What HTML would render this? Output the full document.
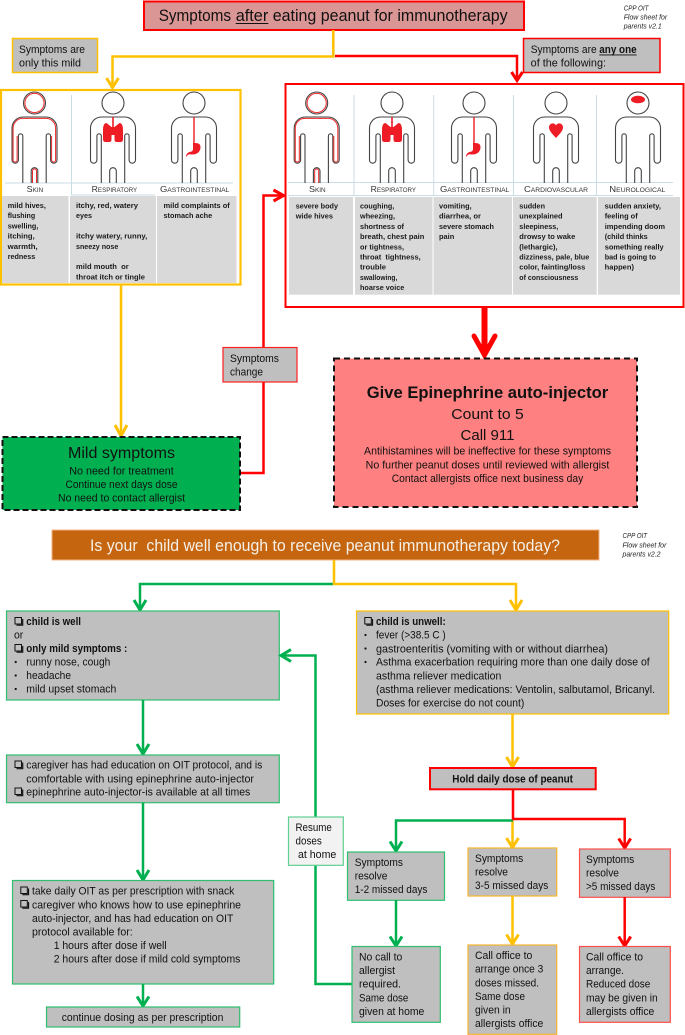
<!DOCTYPE html>
<html><head><meta charset="utf-8"><style>
html,body{margin:0;padding:0;background:#fff}
svg{display:block;filter:blur(.3px)}
text{font-family:"Liberation Sans",sans-serif;fill:#111;font-size:10.7px;white-space:pre}
.s{font-size:7.5px;font-weight:bold;fill:#1a1a1a}
.c{font-size:8.4px;fill:#333;font-variant:small-caps;letter-spacing:0}
.n{font-size:7.4px;font-style:italic;fill:#222}
.b{font-weight:bold}
.m{text-anchor:middle}
.l{fill:none;stroke-linejoin:miter}
polyline.l{stroke-width:3}
</style></head><body>
<svg xmlns="http://www.w3.org/2000/svg" width="685" height="1035" viewBox="0 0 685 1035">
<defs>
<g id="body" fill="none" stroke="#444" stroke-width="1.1">
<circle cx="0" cy="103" r="11"/>
<path d="M-11.7,183V136a2.2,2.2 0 0 0-4.4,0V160a3.2,3.2 0 0 1-6.4,0V128a11,11 0 0 1 11,-11H11.5a11,11 0 0 1 11,11V160a3.2,3.2 0 0 1-6.4,0V136a2.2,2.2 0 0 0-4.4,0V183"/>
<path d="M-3.3,183V171a3.3,3.3 0 0 1 6.6,0V183"/>
</g>
<g id="skin" fill="none" stroke="#ee2a2a" stroke-width="1">
<circle cx="0" cy="103" r="9.6"/>
<path d="M-17.4,136V160a2,2 0 0 1-2,2 2,2 0 0 1-2,-2V128a9.6,9.6 0 0 1 9.6,-9.6H11.5a9.6,9.6 0 0 1 9.6,9.6V160a2,2 0 0 1-4,0V136"/>
<path d="M-2,183V171a2,2 0 0 1 4,0V183"/>
</g>
<g id="lungs" fill="#ee1c25">
<rect x="-0.8" y="117" width="1.6" height="12"/>
<path d="M-1.5,127l-5,-4c-2.5,0-3.5,3-3.5,7v9c0,2.5 1,3 3,3h3c2,0 2.5,-1 2.5,-3v-4h3v4c0,2 .5,3 2.5,3h3c2,0 3,-.5 3,-3v-9c0,-4-1,-7-3.5,-7l-5,4z"/>
</g>
<g id="stomach" fill="none" stroke="#ee1c25">
<path d="M0,117V143" stroke-width="1.4"/>
<path d="M-0.5,143.5c2,0 6.5,-.5 6.5,3.5c0,5.5-4.5,7-7.500,7c-2,0-3,-.5-4,0c-1.5,.5-2,1-2,2.500c0,-2.500 2,-4 5,-4.500c2,-.3 2,-2 2,-3.500z" fill="#ee1c25" stroke-width="1"/>
</g>
<g id="cb"><rect x="0.5" y="0.5" width="6.5" height="6.5" fill="none" stroke="#111" stroke-width="1"/><path d="M2,8.2H8.2V2" fill="none" stroke="#111" stroke-width="1.2"/></g>
</defs>

<!-- TOP FLOWCHART -->
<rect x="144" y="1.5" width="380" height="28.500" fill="#d99694" stroke="#ff0000" stroke-width="2"/>
<text x="158.7" y="21" style="font-size:16.5px" textLength="72.3" lengthAdjust="spacingAndGlyphs">Symptoms</text>
<text x="235.7" y="21" style="font-size:16.5px" textLength="32.6" lengthAdjust="spacingAndGlyphs">after</text>
<rect x="235.7" y="23" width="32.6" height="1" fill="#111"/>
<text x="272.7" y="21" style="font-size:16.5px" textLength="235" lengthAdjust="spacingAndGlyphs">eating peanut for immunotherapy</text>
<text class="n" x="623.7" y="10.5" textLength="24.7" lengthAdjust="spacingAndGlyphs">CPP OIT</text>
<text class="n" x="623.7" y="19.5" textLength="43.5" lengthAdjust="spacingAndGlyphs">Flow sheet for</text>
<text class="n" x="623.7" y="28.5" textLength="38" lengthAdjust="spacingAndGlyphs">parents v2.1</text>

<path class="l" d="M333.3,30V56.5H112.5V87" stroke="#ffc000" stroke-width="2.500"/>
<polyline class="l" points="106.5,78 112.5,87.5 118.5,78" stroke="#ffc000"/>
<path class="l" d="M335,56H517V80" stroke="#ff0000" stroke-width="2.500"/>
<polyline class="l" points="511.5,72 517,80.5 522.5,72" stroke="#ff0000"/>

<rect x="12.5" y="38.5" width="85" height="34" fill="#bfbfbf" stroke="#ffc000" stroke-width="1.500"/>
<text x="19" y="53" textLength="66" lengthAdjust="spacingAndGlyphs">Symptoms are</text>
<text x="19" y="66.5" textLength="62" lengthAdjust="spacingAndGlyphs">only this mild</text>

<rect x="523.5" y="38.5" width="136.500" height="34" fill="#bfbfbf" stroke="#ff0000" stroke-width="1.500"/>
<text x="530.7" y="53" textLength="66" lengthAdjust="spacingAndGlyphs">Symptoms are</text>
<text class="b" x="599.3" y="53" textLength="37.3" lengthAdjust="spacingAndGlyphs">any one</text>
<rect x="599.3" y="54.5" width="37.3" height="0.9" fill="#111"/>
<text x="530.7" y="66.5" textLength="75.3" lengthAdjust="spacingAndGlyphs">of the following:</text>

<!-- Mild panel -->
<rect x="1" y="90" width="239.5" height="194.5" fill="#fff" stroke="#ffc000" stroke-width="2.200"/>
<rect x="2" y="196" width="66.5" height="87" fill="#d9d9d9"/>
<rect x="70" y="196" width="86" height="87" fill="#d9d9d9"/>
<rect x="157" y="196" width="79.5" height="87" fill="#d9d9d9"/>
<path d="M71.5,95V195M5,183H233M71.5,195H155" stroke="#c9dde5" stroke-width="1" fill="none"/>
<use href="#body" x="34.5"/><use href="#skin" x="34.5"/>
<use href="#body" x="113"/><use href="#lungs" x="113"/>
<use href="#body" x="194"/><use href="#stomach" x="194"/>
<text class="c" x="26.7" y="192" textLength="16.5" lengthAdjust="spacingAndGlyphs">Skin</text>
<text class="c" x="91.7" y="192" textLength="45.5" lengthAdjust="spacingAndGlyphs">Respiratory</text>
<text class="c" x="160" y="192" textLength="69.3" lengthAdjust="spacingAndGlyphs">Gastrointestinal</text>

<text class="s" x="7.7" y="208" textLength="38.3" lengthAdjust="spacingAndGlyphs">mild hives,</text>
<text class="s" x="7.7" y="218.2" textLength="27.5" lengthAdjust="spacingAndGlyphs">flushing</text>
<text class="s" x="7.7" y="228.4" textLength="30.7" lengthAdjust="spacingAndGlyphs">swelling,</text>
<text class="s" x="7.7" y="238.6" textLength="27" lengthAdjust="spacingAndGlyphs">itching,</text>
<text class="s" x="7.7" y="248.8" textLength="30" lengthAdjust="spacingAndGlyphs">warmth,</text>
<text class="s" x="7.7" y="259" textLength="27.5" lengthAdjust="spacingAndGlyphs">redness</text>

<text class="s" x="76" y="208" textLength="62" lengthAdjust="spacingAndGlyphs">itchy, red, watery</text>
<text class="s" x="76" y="218.2" textLength="16" lengthAdjust="spacingAndGlyphs">eyes</text>
<text class="s" x="76" y="238.6" textLength="71.3" lengthAdjust="spacingAndGlyphs">itchy watery, runny,</text>
<text class="s" x="76" y="248.8" textLength="42.3" lengthAdjust="spacingAndGlyphs">sneezy nose</text>
<text class="s" x="76" y="269.2" textLength="52.7" lengthAdjust="spacingAndGlyphs">mild mouth  or</text>
<text class="s" x="76" y="279.4" textLength="69" lengthAdjust="spacingAndGlyphs">throat itch or tingle</text>

<text class="s" x="163.5" y="208" textLength="66.3" lengthAdjust="spacingAndGlyphs">mild complaints of</text>
<text class="s" x="163.5" y="218.2" textLength="48.7" lengthAdjust="spacingAndGlyphs">stomach ache</text>

<!-- Yellow to mild symptoms -->
<path class="l" d="M121,285V436" stroke="#ffc000" stroke-width="2.500"/>
<polyline class="l" points="115,425 121,436 127,425" stroke="#ffc000"/>

<!-- Red panel -->
<rect x="285.5" y="84" width="398" height="223" fill="#fff" stroke="#ff0000" stroke-width="2"/>
<rect x="289" y="197" width="64" height="97.7" fill="#d9d9d9"/>
<rect x="355" y="197" width="77.5" height="97.7" fill="#d9d9d9"/>
<rect x="433.5" y="197" width="78.5" height="97.7" fill="#d9d9d9"/>
<rect x="513" y="197" width="83.7" height="97.7" fill="#d9d9d9"/>
<rect x="598" y="197" width="82" height="97.7" fill="#d9d9d9"/>
<path d="M354,95V195M433.7,95V195M513.5,95V195M596.5,95V195M288,182.5H673M288,195.5H673" stroke="#c9dde5" stroke-width="1" fill="none"/>
<use href="#body" x="316.7"/><use href="#skin" x="316.7"/>
<use href="#body" x="392"/><use href="#lungs" x="392"/>
<use href="#body" x="474"/><use href="#stomach" x="474"/>
<use href="#body" x="556"/>
<path d="M556,138c-3,-3.5-7,-7-7,-10.5c0,-4.5 5.5,-5.5 7,-2c1.5,-3.5 7,-2.5 7,2c0,3.5-4,7-7,10.5z" fill="#ee1c25"/>
<use href="#body" x="638"/>
<ellipse cx="638" cy="99.5" rx="7" ry="3.8" fill="#ee1c25"/>

<text class="c" x="309" y="192" textLength="16.7" lengthAdjust="spacingAndGlyphs">Skin</text>
<text class="c" x="370.7" y="192" textLength="45.3" lengthAdjust="spacingAndGlyphs">Respiratory</text>
<text class="c" x="440" y="192" textLength="69.3" lengthAdjust="spacingAndGlyphs">Gastrointestinal</text>
<text class="c" x="524" y="192" textLength="64" lengthAdjust="spacingAndGlyphs">Cardiovascular</text>
<text class="c" x="609.3" y="192" textLength="56" lengthAdjust="spacingAndGlyphs">Neurological</text>

<text class="s" x="295.7" y="208.5" textLength="42.3" lengthAdjust="spacingAndGlyphs">severe body</text>
<text class="s" x="295.7" y="218.7" textLength="37.3" lengthAdjust="spacingAndGlyphs">wide hives</text>

<text class="s" x="360" y="208.5" textLength="34.3" lengthAdjust="spacingAndGlyphs">coughing,</text>
<text class="s" x="360" y="218.7" textLength="35" lengthAdjust="spacingAndGlyphs">wheezing,</text>
<text class="s" x="360" y="228.9" textLength="44" lengthAdjust="spacingAndGlyphs">shortness of</text>
<text class="s" x="360" y="239.1" textLength="64.3" lengthAdjust="spacingAndGlyphs">breath, chest pain</text>
<text class="s" x="360" y="249.3" textLength="44" lengthAdjust="spacingAndGlyphs">or tightness,</text>
<text class="s" x="360" y="259.5" textLength="60.7" lengthAdjust="spacingAndGlyphs">throat  tightness,</text>
<text class="s" x="360" y="269.7" textLength="26" lengthAdjust="spacingAndGlyphs">trouble</text>
<text class="s" x="360" y="279.9" textLength="37.3" lengthAdjust="spacingAndGlyphs">swallowing,</text>
<text class="s" x="360" y="290" textLength="44.3" lengthAdjust="spacingAndGlyphs">hoarse voice</text>

<text class="s" x="439" y="208.5" textLength="32.7" lengthAdjust="spacingAndGlyphs">vomiting,</text>
<text class="s" x="439" y="218.7" textLength="42" lengthAdjust="spacingAndGlyphs">diarrhea, or</text>
<text class="s" x="439" y="228.9" textLength="55" lengthAdjust="spacingAndGlyphs">severe stomach</text>
<text class="s" x="439" y="239.1" textLength="15.3" lengthAdjust="spacingAndGlyphs">pain</text>

<text class="s" x="519.3" y="208.5" textLength="25.7" lengthAdjust="spacingAndGlyphs">sudden</text>
<text class="s" x="519.3" y="218.7" textLength="43.3" lengthAdjust="spacingAndGlyphs">unexplained</text>
<text class="s" x="519.3" y="228.9" textLength="39" lengthAdjust="spacingAndGlyphs">sleepiness,</text>
<text class="s" x="519.3" y="239.1" textLength="56" lengthAdjust="spacingAndGlyphs">drowsy to wake</text>
<text class="s" x="519.3" y="249.3" textLength="38.3" lengthAdjust="spacingAndGlyphs">(lethargic),</text>
<text class="s" x="519.3" y="259.5" textLength="70" lengthAdjust="spacingAndGlyphs">dizziness, pale, blue</text>
<text class="s" x="519.3" y="269.7" textLength="66" lengthAdjust="spacingAndGlyphs">color, fainting/loss</text>
<text class="s" x="519.3" y="279.9" textLength="59" lengthAdjust="spacingAndGlyphs">of consciousness</text>

<text class="s" x="604.7" y="208.5" textLength="56.3" lengthAdjust="spacingAndGlyphs">sudden anxiety,</text>
<text class="s" x="604.7" y="218.7" textLength="33" lengthAdjust="spacingAndGlyphs">feeling of</text>
<text class="s" x="604.7" y="228.9" textLength="60.3" lengthAdjust="spacingAndGlyphs">impending doom</text>
<text class="s" x="604.7" y="239.1" textLength="43" lengthAdjust="spacingAndGlyphs">(child thinks</text>
<text class="s" x="604.7" y="249.3" textLength="59" lengthAdjust="spacingAndGlyphs">something really</text>
<text class="s" x="604.7" y="259.5" textLength="51.3" lengthAdjust="spacingAndGlyphs">bad is going to</text>
<text class="s" x="604.7" y="269.7" textLength="29.3" lengthAdjust="spacingAndGlyphs">happen)</text>

<!-- Symptoms change connector -->
<path class="l" d="M240,473H263.5V195.5H283" stroke="#ff0000" stroke-width="2.500"/>
<polyline class="l" points="273.5,190 283.5,195.5 273.5,201" stroke="#ff0000"/>
<rect x="223" y="347.5" width="74" height="34.5" fill="#bfbfbf" stroke="#ff2020" stroke-width="1.200"/>
<text x="230" y="362" textLength="49" lengthAdjust="spacingAndGlyphs">Symptoms</text>
<text x="230" y="375.5" textLength="33" lengthAdjust="spacingAndGlyphs">change</text>

<!-- Thick arrow -->
<path class="l" d="M484.5,307V352" stroke="#ff0000" stroke-width="6"/>
<polyline points="474,336 484.5,355 495,336" fill="none" stroke="#ff0000" stroke-width="5" stroke-linecap="round" stroke-linejoin="miter"/>

<!-- Mild symptoms box -->
<rect x="2.5" y="437" width="237.5" height="73" fill="#00b050" stroke="#111" stroke-width="2" stroke-dasharray="6 3"/>
<text class="m" x="121.5" y="458" style="font-size:15.5px" textLength="107" lengthAdjust="spacingAndGlyphs">Mild symptoms</text>
<text class="m" x="121.5" y="474.5" textLength="104.5" lengthAdjust="spacingAndGlyphs">No need for treatment</text>
<text class="m" x="121.5" y="488" textLength="112" lengthAdjust="spacingAndGlyphs">Continue next days dose</text>
<text class="m" x="121.5" y="501.7" textLength="127" lengthAdjust="spacingAndGlyphs">No need to contact allergist</text>

<!-- Epi box -->
<rect x="334" y="358.5" width="303" height="148.5" fill="#ff8080" stroke="#111" stroke-width="2" stroke-dasharray="6 4"/>
<text class="b m" x="487.5" y="398" style="font-size:16.5px" textLength="241.5" lengthAdjust="spacingAndGlyphs">Give Epinephrine auto-injector</text>
<text class="m" x="487.5" y="419" style="font-size:14.5px" textLength="72.5" lengthAdjust="spacingAndGlyphs">Count to 5</text>
<text class="m" x="487.5" y="440" style="font-size:14.5px" textLength="54" lengthAdjust="spacingAndGlyphs">Call 911</text>
<text class="m" x="487.5" y="454.7" textLength="247" lengthAdjust="spacingAndGlyphs">Antihistamines will be ineffective for these symptoms</text>
<text class="m" x="487.5" y="468.3" textLength="243.7" lengthAdjust="spacingAndGlyphs">No further peanut doses until reviewed with allergist</text>
<text class="m" x="487.5" y="482" textLength="191.5" lengthAdjust="spacingAndGlyphs">Contact allergists office next business day</text>

<!-- BOTTOM FLOWCHART -->
<rect x="52" y="530" width="547" height="30" fill="#c5650f" stroke="#f4b183" stroke-width="1"/>
<text x="90" y="551" style="font-size:16.5px;fill:#f4f0e8" textLength="470" lengthAdjust="spacingAndGlyphs">Is your  child well enough to receive peanut immunotherapy today?</text>
<text class="n" x="622.5" y="538" textLength="24.6" lengthAdjust="spacingAndGlyphs">CPP OIT</text>
<text class="n" x="622.5" y="547.5" textLength="43.9" lengthAdjust="spacingAndGlyphs">Flow sheet for</text>
<text class="n" x="622.5" y="556.5" textLength="38" lengthAdjust="spacingAndGlyphs">parents v2.2</text>

<path class="l" d="M334,584H140V609" stroke="#00b050" stroke-width="2.500"/>
<polyline class="l" points="134,600 140,610 146,600" stroke="#00b050"/>
<path class="l" d="M334,560V584H516V609" stroke="#ffc000" stroke-width="2.500"/>
<polyline class="l" points="510,600 516,610 522,600" stroke="#ffc000"/>

<!-- Left column -->
<rect x="6.5" y="611" width="272.8" height="89" fill="#bfbfbf" stroke="#2fbf6f" stroke-width="1.200"/>
<use href="#cb" x="14.5" y="617"/>
<text class="b" x="26.3" y="625" textLength="54.7" lengthAdjust="spacingAndGlyphs">child is well</text>
<text x="14" y="638.5" textLength="9.3" lengthAdjust="spacingAndGlyphs">or</text>
<use href="#cb" x="14.5" y="644"/>
<text class="b" x="26.3" y="652" textLength="101" lengthAdjust="spacingAndGlyphs">only mild symptoms :</text>
<circle cx="15.7" cy="662" r="1.100" fill="#111"/><text x="26.3" y="665.5" textLength="84" lengthAdjust="spacingAndGlyphs">runny nose, cough</text>
<circle cx="15.7" cy="675.5" r="1.100" fill="#111"/><text x="26.3" y="679" textLength="44.7" lengthAdjust="spacingAndGlyphs">headache</text>
<circle cx="15.7" cy="689" r="1.100" fill="#111"/><text x="26.3" y="692.5" textLength="90" lengthAdjust="spacingAndGlyphs">mild upset stomach</text>

<path class="l" d="M143,700V753" stroke="#00b050" stroke-width="2.500"/>
<polyline class="l" points="137,744 143,754 149,744" stroke="#00b050"/>

<rect x="6.5" y="755" width="272.8" height="47.7" fill="#bfbfbf" stroke="#2fbf6f" stroke-width="1.200"/>
<use href="#cb" x="14.5" y="760.5"/>
<text x="26.3" y="768.7" textLength="236" lengthAdjust="spacingAndGlyphs">caregiver has had education on OIT protocol, and is</text>
<text x="26.3" y="782.3" textLength="227.7" lengthAdjust="spacingAndGlyphs">comfortable with using epinephrine auto-injector</text>
<use href="#cb" x="14.5" y="787.5"/>
<text x="26.3" y="795.7" textLength="224" lengthAdjust="spacingAndGlyphs">epinephrine auto-injector-is available at all times</text>

<path class="l" d="M143,802.7V879" stroke="#00b050" stroke-width="2.500"/>
<polyline class="l" points="137,870 143,880 149,870" stroke="#00b050"/>

<rect x="12.5" y="880.5" width="261.2" height="103.5" fill="#bfbfbf" stroke="#2fbf6f" stroke-width="1.200"/>
<use href="#cb" x="20.3" y="886.5"/>
<text x="32" y="894.7" textLength="202.3" lengthAdjust="spacingAndGlyphs">take daily OIT as per prescription with snack</text>
<use href="#cb" x="20.3" y="900"/>
<text x="32" y="908.3" textLength="209" lengthAdjust="spacingAndGlyphs">caregiver who knows how to use epinephrine</text>
<text x="32" y="922" textLength="201.3" lengthAdjust="spacingAndGlyphs">auto-injector, and has had education on OIT</text>
<text x="32" y="935.5" textLength="100.7" lengthAdjust="spacingAndGlyphs">protocol available for:</text>
<text x="53.7" y="949" textLength="113" lengthAdjust="spacingAndGlyphs">1 hours after dose if well</text>
<text x="53.7" y="962.7" textLength="186.7" lengthAdjust="spacingAndGlyphs">2 hours after dose if mild cold symptoms</text>

<path class="l" d="M143,984V1005" stroke="#00b050" stroke-width="2.500"/>
<polyline class="l" points="137,996.5 143,1006 149,996.5" stroke="#00b050"/>

<rect x="46.5" y="1007" width="193.2" height="20" fill="#bfbfbf" stroke="#2fbf6f" stroke-width="1.200"/>
<text x="61.7" y="1021" textLength="161.7" lengthAdjust="spacingAndGlyphs">continue dosing as per prescription</text>

<!-- Resume loop -->
<path class="l" d="M352,984H315.5V655.5H281" stroke="#00b050" stroke-width="2.500"/>
<polyline class="l" points="291,649.5 281,655.5 291,661.5" stroke="#00b050"/>
<rect x="288.5" y="817" width="54.8" height="48.3" fill="#f2f2f2" stroke="#5fcf92" stroke-width="1.200"/>
<text x="295.5" y="831" textLength="36.3" lengthAdjust="spacingAndGlyphs">Resume</text>
<text x="295.5" y="844.6" textLength="26.3" lengthAdjust="spacingAndGlyphs">doses</text>
<text x="298" y="858" textLength="38.3" lengthAdjust="spacingAndGlyphs">at home</text>

<!-- Right column -->
<rect x="356.5" y="611" width="312.2" height="103" fill="#bfbfbf" stroke="#ffc000" stroke-width="1.200"/>
<use href="#cb" x="364.3" y="617"/>
<text class="b" x="376" y="625" textLength="69.7" lengthAdjust="spacingAndGlyphs">child is unwell:</text>
<circle cx="365.5" cy="635" r="1.100" fill="#111"/><text x="376" y="638.7" textLength="69.7" lengthAdjust="spacingAndGlyphs">fever (&gt;38.5 C )</text>
<circle cx="365.5" cy="648.5" r="1.100" fill="#111"/><text x="376" y="652.3" textLength="232" lengthAdjust="spacingAndGlyphs">gastroenteritis (vomiting with or without diarrhea)</text>
<circle cx="365.5" cy="662" r="1.100" fill="#111"/><text x="376" y="665.7" textLength="273.7" lengthAdjust="spacingAndGlyphs">Asthma exacerbation requiring more than one daily dose of</text>
<text x="376" y="679.3" textLength="125.3" lengthAdjust="spacingAndGlyphs">asthma reliever medication</text>
<text x="376" y="693" textLength="279" lengthAdjust="spacingAndGlyphs">(asthma reliever medications: Ventolin, salbutamol, Bricanyl.</text>
<text x="376" y="706.5" textLength="148.3" lengthAdjust="spacingAndGlyphs">Doses for exercise do not count)</text>

<path class="l" d="M512.5,714V766" stroke="#ffc000" stroke-width="2.500"/>
<polyline class="l" points="506.5,757 512.5,767 518.5,757" stroke="#ffc000"/>

<rect x="430" y="768" width="165.7" height="21.3" fill="#bfbfbf" stroke="#ff0000" stroke-width="2"/>
<text class="b" x="452.3" y="782.3" textLength="120.7" lengthAdjust="spacingAndGlyphs">Hold daily dose of peanut</text>

<path class="l" d="M512.5,820V846" stroke="#ffc000" stroke-width="2.500"/>
<polyline class="l" points="506.5,838 512.5,847.5 518.5,838" stroke="#ffc000"/>
<path class="l" d="M513,820.5H396V850" stroke="#00b050" stroke-width="2.500"/>
<polyline class="l" points="390,841.5 396,851 402,841.5" stroke="#00b050"/>
<path class="l" d="M513,789V819H624.7V847" stroke="#ff0000" stroke-width="2.500"/>
<polyline class="l" points="618.7,838.5 624.7,848 630.7,838.5" stroke="#ff0000"/>

<rect x="347.5" y="852" width="97" height="48.3" fill="#bfbfbf" stroke="#2fbf6f" stroke-width="1.200"/>
<text x="354.7" y="866" textLength="48.3" lengthAdjust="spacingAndGlyphs">Symptoms</text>
<text x="354.7" y="879.7" textLength="32.7" lengthAdjust="spacingAndGlyphs">resolve</text>
<text x="354.7" y="893" textLength="72.7" lengthAdjust="spacingAndGlyphs">1-2 missed days</text>

<rect x="468" y="848" width="88.7" height="48" fill="#bfbfbf" stroke="#f5b32e" stroke-width="1.200"/>
<text x="475" y="862" textLength="48.3" lengthAdjust="spacingAndGlyphs">Symptoms</text>
<text x="475" y="875.7" textLength="33" lengthAdjust="spacingAndGlyphs">resolve</text>
<text x="475" y="889" textLength="73.3" lengthAdjust="spacingAndGlyphs">3-5 missed days</text>

<rect x="579.5" y="849" width="90.8" height="48.3" fill="#bfbfbf" stroke="#ff4d4d" stroke-width="1.200"/>
<text x="586" y="863" textLength="48.3" lengthAdjust="spacingAndGlyphs">Symptoms</text>
<text x="586" y="876.7" textLength="33" lengthAdjust="spacingAndGlyphs">resolve</text>
<text x="586" y="890" textLength="69.3" lengthAdjust="spacingAndGlyphs">&gt;5 missed days</text>

<path class="l" d="M396,900V945" stroke="#00b050" stroke-width="2.500"/>
<polyline class="l" points="390,936.5 396,946 402,936.5" stroke="#00b050"/>
<path class="l" d="M512.5,896V943" stroke="#ffc000" stroke-width="2.500"/>
<polyline class="l" points="506.5,934.5 512.5,944 518.5,934.5" stroke="#ffc000"/>
<path class="l" d="M624.7,897V945" stroke="#ff0000" stroke-width="2.500"/>
<polyline class="l" points="618.7,936.5 624.7,946 630.7,936.5" stroke="#ff0000"/>

<rect x="352" y="946.5" width="88.3" height="75.8" fill="#bfbfbf" stroke="#2fbf6f" stroke-width="1.200"/>
<text x="359" y="960.3" textLength="43.3" lengthAdjust="spacingAndGlyphs">No call to</text>
<text x="359" y="974" textLength="36" lengthAdjust="spacingAndGlyphs">allergist</text>
<text x="359" y="987.7" textLength="42" lengthAdjust="spacingAndGlyphs">required.</text>
<text x="359" y="1001.3" textLength="49.3" lengthAdjust="spacingAndGlyphs">Same dose</text>
<text x="359" y="1015" textLength="65.3" lengthAdjust="spacingAndGlyphs">given at home</text>

<rect x="468" y="945" width="88.7" height="89.3" fill="#bfbfbf" stroke="#f5b32e" stroke-width="1.200"/>
<text x="475" y="959" textLength="57.3" lengthAdjust="spacingAndGlyphs">Call office to</text>
<text x="475" y="972.7" textLength="68.3" lengthAdjust="spacingAndGlyphs">arrange once 3</text>
<text x="475" y="986.3" textLength="64" lengthAdjust="spacingAndGlyphs">doses missed.</text>
<text x="475" y="999.8" textLength="50" lengthAdjust="spacingAndGlyphs">Same dose</text>
<text x="475" y="1013.5" textLength="35.7" lengthAdjust="spacingAndGlyphs">given in</text>
<text x="475" y="1027" textLength="68.3" lengthAdjust="spacingAndGlyphs">allergists office</text>

<rect x="579.5" y="946.5" width="90.8" height="75.8" fill="#bfbfbf" stroke="#ff4d4d" stroke-width="1.200"/>
<text x="586" y="960.3" textLength="57" lengthAdjust="spacingAndGlyphs">Call office to</text>
<text x="586" y="974" textLength="38" lengthAdjust="spacingAndGlyphs">arrange.</text>
<text x="586" y="987.7" textLength="64.3" lengthAdjust="spacingAndGlyphs">Reduced dose</text>
<text x="586" y="1001.3" textLength="71.7" lengthAdjust="spacingAndGlyphs">may be given in</text>
<text x="586" y="1015" textLength="68.3" lengthAdjust="spacingAndGlyphs">allergists office</text>
</svg>
</body></html>
